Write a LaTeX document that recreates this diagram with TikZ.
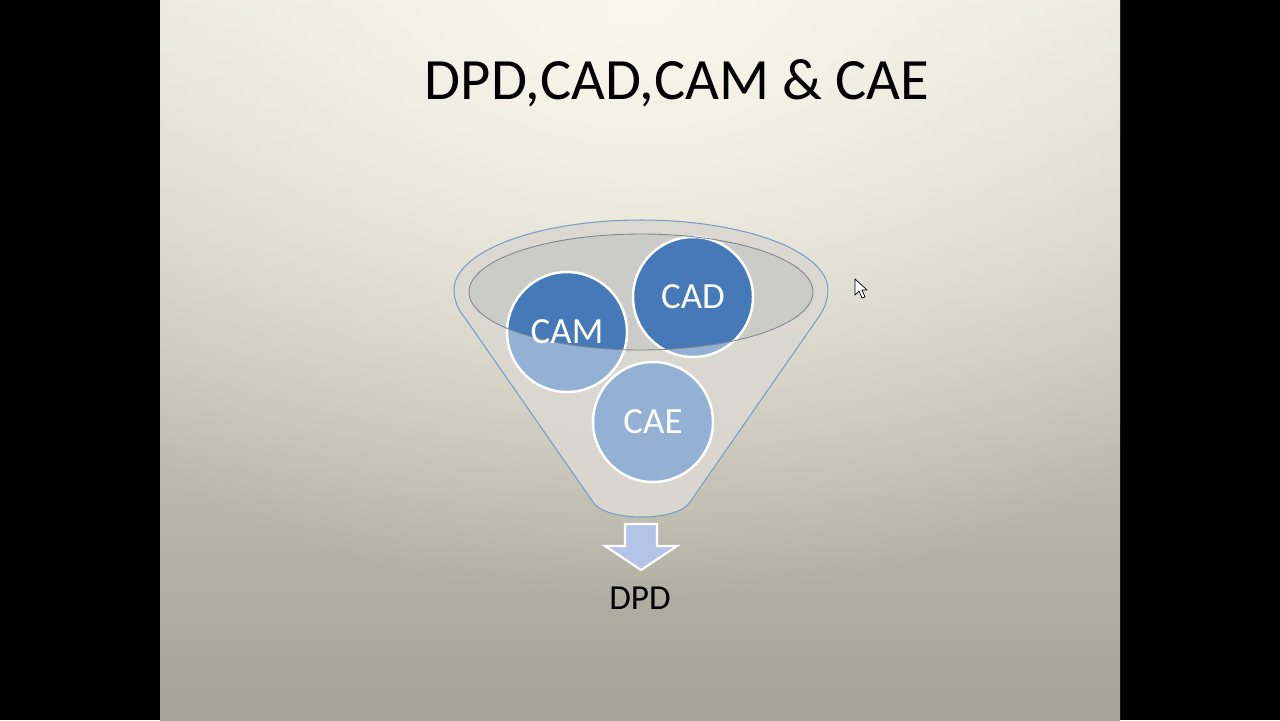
\documentclass[tikz,border=0pt]{standalone}
\usepackage{fontspec}
\setmainfont{Carlito}
\usetikzlibrary{fadings}
\definecolor{slidetop}{HTML}{E4E3D7}
\definecolor{slideglow}{HTML}{FAF8EC}
\definecolor{slidemid}{HTML}{C9C8BC}
\definecolor{slidebot}{HTML}{A4A396}
\definecolor{funnelfill}{HTML}{BDB9AC}
\definecolor{innerfill}{HTML}{CBCCC8}
\definecolor{disc}{HTML}{4679B8}
\definecolor{funnelline}{HTML}{7C9DC8}
\definecolor{innerline}{HTML}{7F878F}
\definecolor{arrowfill}{HTML}{B3C4E6}
\tikzfading[name=softglow, inner color=transparent!0, outer color=transparent!100]
\tikzset{
  disk/.style={circle, minimum size=2.4cm, inner sep=0pt, fill=disc, draw=white, line width=1.4pt},
  disklabel/.style={text=white, font=\fontsize{21pt}{24pt}\selectfont, inner sep=0pt},
}
\begin{document}
\begin{tikzpicture}[x=0.02cm,y=-0.02cm]
\useasboundingbox (0,0) rectangle (1280,720);
\fill[black] (0,0) rectangle (1280,720);
\shade[top color=slidetop, middle color=slidemid, bottom color=slidebot] (160,0) rectangle (1120,720);
\begin{scope}
\clip (160,0) rectangle (1120,720);
\fill[slideglow, path fading=softglow] (640,0) ellipse[x radius=16cm, y radius=12cm];
\end{scope}
% title
\node[font=\fontsize{33.3pt}{38pt}\selectfont, text=black, inner sep=0pt] (title) at (677,83) {DPD,CAD,CAM \& CAE};
% funnel body
\def\funnelpath{(454,290) arc[start angle=180, end angle=0, x radius=3.74cm, y radius=1.4cm]
  .. controls (828,300) and (824,310) .. (818,318)
  -- (690,502) .. controls (678,522) and (605,522) .. (593,502)
  -- (465,318) .. controls (458,310) and (454,300) .. cycle}
\fill[funnelfill, opacity=0.9] \funnelpath;
\fill[innerfill] (641,292) ellipse[x radius=3.44cm, y radius=1.16cm];
% discs
\node[disk] (cad) at (693,297) {};
\node[disk] (cam) at (567,332) {};
\node[disk] (cae) at (653,422) {};
% front overlay of funnel
\fill[white, opacity=0.42, even odd rule] \funnelpath (641,292) ellipse[x radius=3.44cm, y radius=1.16cm];
\draw[funnelline, line width=0.6pt] \funnelpath;
\draw[innerline, line width=0.5pt] (641,292) ellipse[x radius=3.44cm, y radius=1.16cm];
% labels
\node[disklabel] at (cad) {CAD};
\node[disklabel] at (cam) {CAM};
\node[disklabel] at (cae) {CAE};
% block arrow
\draw[white, line width=1.2pt, fill=arrowfill, line join=miter]
  (625,524) -- (657,524) -- (657,546) -- (677,546) -- (641,570) -- (605,546) -- (625,546) -- cycle;
\node[font=\fontsize{20pt}{24pt}\selectfont, text=black, inner sep=0pt] (dpd) at (640,598) {DPD};
% mouse pointer
\draw[black, fill=white, line width=0.4pt, line join=round]
  (855,279) -- (855,295) -- (859,291) -- (862,298) -- (865,297) -- (862,290) -- (867,290) -- cycle;
\end{tikzpicture}
\end{document}
